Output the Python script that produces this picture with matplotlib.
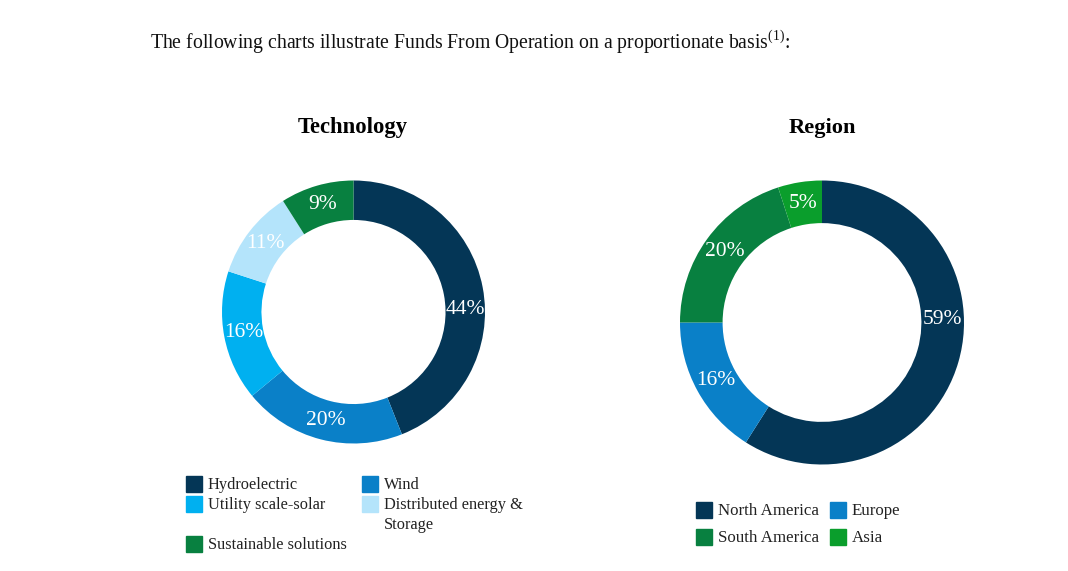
import numpy as np
import matplotlib.pyplot as plt
from matplotlib.patches import Rectangle

plt.rcParams['font.family'] = ['Liberation Serif', 'DejaVu Serif']
plt.rcParams['mathtext.fontset'] = 'custom'
plt.rcParams['mathtext.rm'] = 'Liberation Serif'

# Technology breakdown (clockwise from top)
tech_labels = ['Hydroelectric', 'Wind', 'Utility scale-solar',
               'Distributed energy &\nStorage', 'Sustainable solutions']
tech_values = [44, 20, 16, 11, 9]
tech_colors = ['#043656', '#0a80c8', '#00b0f0', '#b4e4fb', '#088040']

# Region breakdown (clockwise from top)
region_labels = ['North America', 'Europe', 'South America', 'Asia']
region_values = [59, 16, 20, 5]
region_colors = ['#043656', '#0a80c8', '#088040', '#0a9e2c']

W, H = 1068, 571
fig = plt.figure(figsize=(W / 100, H / 100), dpi=100)


def donut(cx, cy, r, values, colors, width):
    ax = fig.add_axes([(cx - r) / W, (H - cy - r) / H, 2 * r / W, 2 * r / H])
    wedges, texts = ax.pie(values, colors=colors, startangle=90, counterclock=False,
                           radius=1, labels=[f'{v}%' for v in values],
                           labeldistance=1 - width / 2,
                           wedgeprops=dict(width=width, edgecolor='none'),
                           textprops=dict(color='white', fontsize=15.5,
                                          ha='center', va='center'))
    # a wedge that crosses the 3 o'clock direction gets its label there
    rl = 1 - width / 2
    for w, t in zip(wedges, texts):
        if w.theta1 <= 0 <= w.theta2 or w.theta1 <= 360 <= w.theta2:
            t.set_position((rl, 0.02))
    ax.set_xlim(-1, 1)
    ax.set_ylim(-1, 1)
    ax.axis('off')
    return ax


donut(353.5, 312, 131.5, tech_values, tech_colors, 0.30)
donut(822, 322.5, 142, region_values, region_colors, 0.30)

fig.text(150 / W, 1 - 42 / H,
         'The following charts illustrate Funds From Operation on a proportionate basis$^{\\mathrm{(1)}}$:',
         fontsize=14.2, va='center', ha='left', color='#111111')
fig.text(353 / W, 1 - 128 / H, 'Technology', fontsize=16.3, fontweight='bold', ha='center', va='center')
fig.text(822 / W, 1 - 128 / H, 'Region', fontsize=16.2, fontweight='bold', ha='center', va='center')


def legend_item(x, y, color, label, fs, size=16):
    fig.patches.append(Rectangle((x / W, 1 - (y + size / 2) / H), size / W, size / H,
                                 transform=fig.transFigure, color=color))
    if '\n' in label:
        fig.text((x + size + 6) / W, 1 - (y - 7) / H, label, fontsize=fs, va='top',
                 ha='left', color='#222222', linespacing=1.3)
    else:
        fig.text((x + size + 6) / W, 1 - (y + 1) / H, label, fontsize=fs, va='center',
                 ha='left', color='#222222')


# technology legend: 2 columns, Sustainable on its own row below
tech_pos = [(186, 484), (362, 484), (186, 504), (362, 504), (186, 544)]
for (x, y), c, lab in zip(tech_pos, tech_colors, tech_labels):
    legend_item(x, y, c, lab, 11.8)

region_pos = [(696, 510), (830, 510), (696, 537), (830, 537)]
for (x, y), c, lab in zip(region_pos, region_colors, region_labels):
    legend_item(x, y, c, lab, 12.2)

fig.savefig('out.png', dpi=100)
